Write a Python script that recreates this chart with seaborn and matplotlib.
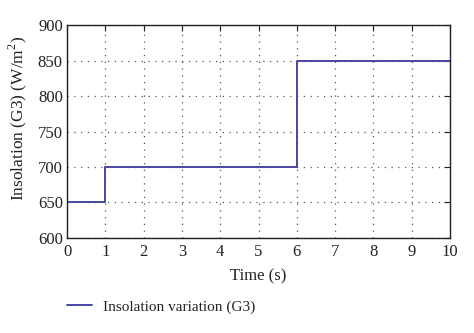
import matplotlib
matplotlib.use("Agg")
import matplotlib.pyplot as plt
import seaborn as sns
import pandas as pd

# Step insolation profile for G3
time_s = [0, 1, 6, 10]
insolation = [650, 700, 850, 850]
x_ticks = [0, 1, 2, 3, 4, 5, 6, 7, 8, 9, 10]
y_ticks = [600, 650, 700, 750, 800, 850, 900]

sns.set_theme(style="white")
plt.rcParams["font.family"] = ["Liberation Serif", "DejaVu Serif"]
plt.rcParams["mathtext.fontset"] = "custom"
plt.rcParams["mathtext.rm"] = "Liberation Serif"

df = pd.DataFrame({"Time (s)": time_s, "G3": insolation})

fig = plt.figure(figsize=(4.74, 3.33), dpi=100)
ax = fig.add_axes([0.1414, 0.2853, 0.808, 0.6396])

sns.lineplot(data=df, x="Time (s)", y="G3", ax=ax, drawstyle="steps-post",
             color="#4848a2", linewidth=1.4, label="Insolation variation (G3)",
             legend=False)

ax.set_xlim(0, 10)
ax.set_ylim(600, 900)
ax.set_xticks(x_ticks)
ax.set_yticks(y_ticks)
ax.tick_params(direction="in", top=True, right=True, length=4, width=0.8,
               labelsize=12, colors="#222222")
ax.tick_params(axis="x", pad=4)
ax.tick_params(axis="y", pad=3)
ax.grid(True, linestyle=(0, (1, 4.4)), color="#555555", linewidth=0.9)
for sp in ax.spines.values():
    sp.set_color("#222222")
    sp.set_linewidth(1.0)

ax.set_xlabel("Time (s)", fontsize=12, color="#222222")
ax.xaxis.set_label_coords(0.4987, -0.142)
ax.set_ylabel("Insolation (G3) (W/m$^2$)", fontsize=12.5, color="#222222")
ax.yaxis.set_label_coords(-0.099, 0.563)

handles, labels = ax.get_legend_handles_labels()
fig.legend(handles, labels, loc="center left", bbox_to_anchor=(0.1414, 0.078),
           frameon=False, fontsize=11, handlelength=1.64, handletextpad=0.72,
           borderaxespad=0, borderpad=0, labelcolor="#222222")

fig.savefig("out.png", dpi=100)
